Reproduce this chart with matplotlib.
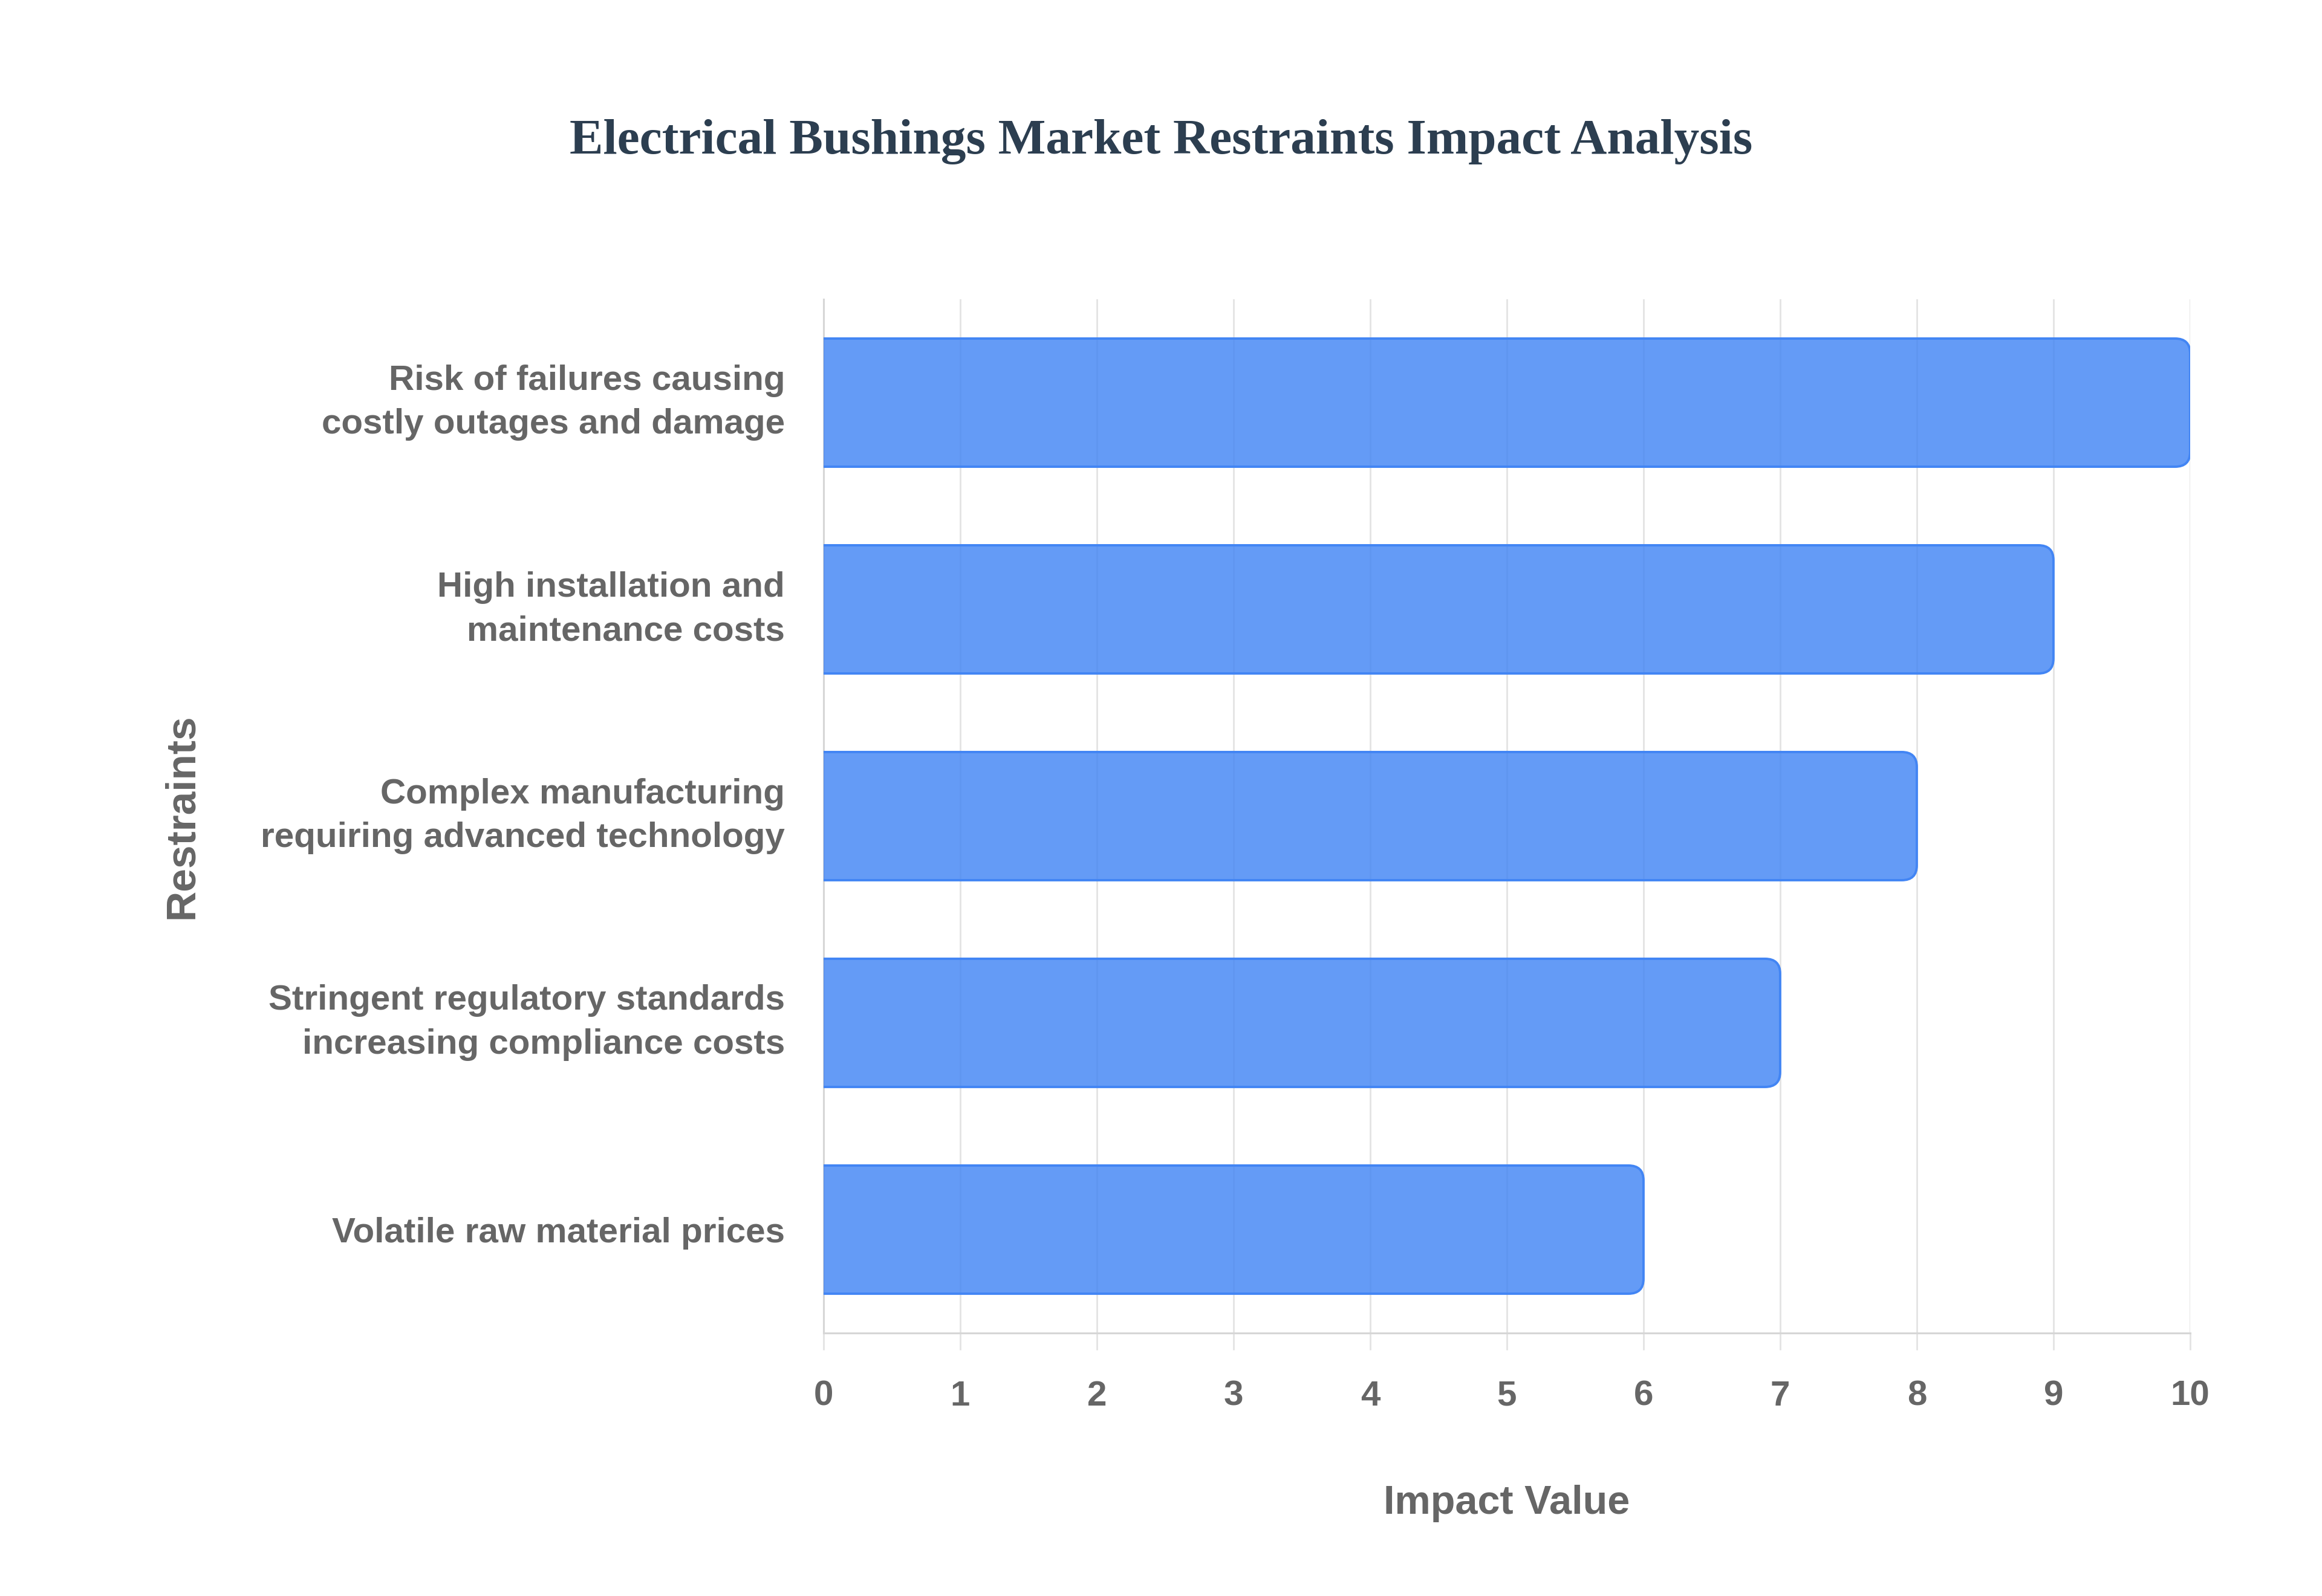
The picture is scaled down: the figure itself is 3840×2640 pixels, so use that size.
import matplotlib.pyplot as plt
from matplotlib.path import Path
from matplotlib.patches import PathPatch

# Restraints, top to bottom
restraints = [
    'Risk of failures causing\ncostly outages and damage',
    'High installation and\nmaintenance costs',
    'Complex manufacturing\nrequiring advanced technology',
    'Stringent regulatory standards\nincreasing compliance costs',
    'Volatile raw material prices',
]
impact = [10, 9, 8, 7, 6]
x_ticks = [0, 1, 2, 3, 4, 5, 6, 7, 8, 9, 10]

plt.rcParams['font.family'] = ['Liberation Sans', 'DejaVu Sans']

fig = plt.figure(figsize=(19.2, 13.2), dpi=200)
ax = fig.add_axes([0.3547, 0.1648, 0.5885, 0.6477])

bar_h = 0.62
rx, ry = 0.11, 0.072   # corner radius in data units

def rounded_bar(y, w):
    # bar from x=0 to w, rounded on the right side only
    y0, y1 = y + bar_h / 2, y - bar_h / 2
    verts = [(0, y0), (w - rx, y0), (w, y0), (w, y0 - ry),
             (w, y1 + ry), (w, y1), (w - rx, y1), (0, y1)]
    codes = [Path.MOVETO, Path.LINETO, Path.CURVE3, Path.CURVE3,
             Path.LINETO, Path.CURVE3, Path.CURVE3, Path.LINETO]
    return PathPatch(Path(verts, codes),
                     facecolor=(66/255, 133/255, 244/255, 0.82),
                     edgecolor='#4285F4', linewidth=1.4, zorder=3)

for i, v in enumerate(impact):
    ax.add_patch(rounded_bar(i, v))

ax.set_xlim(0, 10)
ax.set_ylim(len(restraints) - 0.5, -0.5)
ax.set_xticks(x_ticks)
ax.set_yticks(range(len(restraints)))
ax.set_yticklabels(restraints)

grid_c = '#e3e3e3'
ax.grid(axis='x', color=grid_c, linewidth=1.0, zorder=0)
ax.set_axisbelow(True)
for s in ['top', 'right']:
    ax.spines[s].set_visible(False)
for s in ['left', 'bottom']:
    ax.spines[s].set_color('#d6d6d6')
    ax.spines[s].set_linewidth(1.1)

ax.tick_params(axis='x', length=10, width=1.0, color=grid_c, pad=18,
               labelsize=21, labelcolor='#666666')
ax.tick_params(axis='y', length=0, pad=23, labelsize=21, labelcolor='#666666')
for lab in ax.get_xticklabels() + ax.get_yticklabels():
    lab.set_fontweight('bold')
for lab in ax.get_yticklabels():
    lab.set_linespacing(1.45)
    if '\n' in lab.get_text():
        lab.set_va('center')

ax.set_xlabel('Impact Value', fontsize=24, fontweight='bold', color='#666666')
ax.xaxis.set_label_coords(0.5, -0.165)
ax.xaxis.label.set_va('center')
ax.set_ylabel('Restraints', fontsize=25, fontweight='bold', color='#666666')
ax.yaxis.set_label_coords(-0.4695, 0.5)
ax.yaxis.label.set_va('center')

fig.text(0.5, 0.911, 'Electrical Bushings Market Restraints Impact Analysis',
         ha='center', va='center', fontsize=30, fontweight='bold',
         color='#2c3e50', family=['Liberation Serif', 'DejaVu Serif'])

fig.savefig('out.png', dpi=200, facecolor='white')
